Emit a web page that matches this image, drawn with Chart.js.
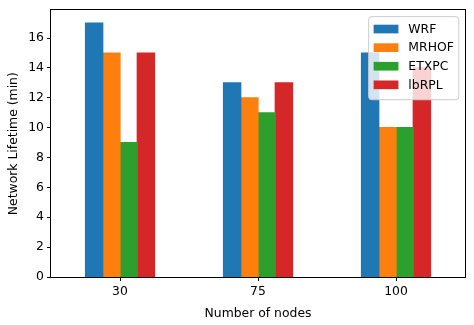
<!DOCTYPE html>
<html>
<head>
<meta charset="utf-8">
<script src="https://cdn.jsdelivr.net/npm/chart.js@4/dist/chart.umd.min.js"></script>
<style>
html,body{margin:0;padding:0;background:#fff;}
canvas{display:block;}
</style>
</head>
<body>
<canvas id="c" width="474" height="325"></canvas>
<script>
const categories = ['30', '75', '100'];
const wrf   = [17, 13, 15];
const mrhof = [15, 12, 10];
const etxpc = [9, 11, 10];
const lbrpl = [15, 13, 14];
const seriesNames = ['WRF', 'MRHOF', 'ETXPC', 'lbRPL'];
const yTickValues = [0, 2, 4, 6, 8, 10, 12, 14, 16];
const yMax = 17.85;
const xTitle = 'Number of nodes';
const yTitle = 'Network Lifetime (min)';

const colors = ['#1f77b4', '#ff7f0e', '#2ca02c', '#d62728'];
const FONT = {family: "'DejaVu Sans', sans-serif", size: 12.4};

const framePlugin = {
  id: 'frame',
  afterDatasetsDraw(chart) {
    const {ctx, chartArea: a} = chart;
    ctx.save();
    ctx.strokeStyle = '#000';
    ctx.lineWidth = 1;
    ctx.strokeRect(Math.round(a.left) - 0.5, Math.round(a.top) - 0.5,
                   Math.round(a.right - a.left) + 1, Math.round(a.bottom - a.top) + 1);
    ctx.restore();
  }
};

const legendPlugin = {
  id: 'mplLegend',
  afterDraw(chart) {
    const {ctx, chartArea: a} = chart;
    const fs = FONT.size;
    ctx.save();
    ctx.font = fs + "px 'DejaVu Sans', sans-serif";
    const labels = chart.data.datasets.map(d => d.label);
    const maxW = Math.max(...labels.map(t => ctx.measureText(t).width));
    const pad = 0.4 * fs, hl = 2 * fs, htp = 0.8 * fs, rowH = 1.5 * fs;
    const w = pad + hl + htp + maxW + pad;
    const h = pad * 2 + rowH * labels.length - 0.1 * fs;
    const x = a.right - 0.5 * fs - w;
    const y = a.top + 0.5 * fs;
    const r = 3;
    ctx.beginPath();
    ctx.moveTo(x + r, y);
    ctx.lineTo(x + w - r, y); ctx.quadraticCurveTo(x + w, y, x + w, y + r);
    ctx.lineTo(x + w, y + h - r); ctx.quadraticCurveTo(x + w, y + h, x + w - r, y + h);
    ctx.lineTo(x + r, y + h); ctx.quadraticCurveTo(x, y + h, x, y + h - r);
    ctx.lineTo(x, y + r); ctx.quadraticCurveTo(x, y, x + r, y);
    ctx.closePath();
    ctx.fillStyle = 'rgba(255,255,255,0.8)';
    ctx.fill();
    ctx.strokeStyle = '#cccccc';
    ctx.lineWidth = 1;
    ctx.stroke();
    ctx.textBaseline = 'middle';
    ctx.textAlign = 'left';
    chart.data.datasets.forEach((d, i) => {
      const cy = y + pad + 0.6 * fs + i * rowH;
      ctx.fillStyle = d.backgroundColor;
      ctx.fillRect(x + pad, cy - 0.35 * fs, hl, 0.7 * fs);
      ctx.fillStyle = '#000';
      ctx.fillText(d.label, x + pad + hl + htp, cy + 0.5);
    });
    ctx.restore();
  }
};

const seriesData = [wrf, mrhof, etxpc, lbrpl];
new Chart(document.getElementById('c'), {
  type: 'bar',
  data: {
    labels: categories,
    datasets: seriesNames.map((n, i) => ({
      label: n,
      data: seriesData[i],
      backgroundColor: colors[i],
      borderWidth: 0,
      inflateAmount: 0.6,
      categoryPercentage: 0.5,
      barPercentage: 1.0
    }))
  },
  options: {
    responsive: false,
    animation: false,
    devicePixelRatio: 1,
    layout: {padding: {top: 8, right: 9, left: 0, bottom: 0}},
    plugins: {legend: {display: false}, tooltip: {enabled: false}},
    scales: {
      x: {
        type: 'category',
        offset: true,
        grid: {display: true, offset: false, drawOnChartArea: false, drawTicks: true, tickLength: 4, color: '#000', lineWidth: 1},
        border: {display: false},
        ticks: {color: '#000', font: FONT, padding: 3, maxRotation: 0},
        title: {display: true, text: xTitle, color: '#000', font: FONT, padding: {top: 0, bottom: 4}},
        afterFit(s) { s.height = 48; }
      },
      y: {
        min: 0,
        max: yMax,
        grid: {display: true, drawOnChartArea: false, drawTicks: true, tickLength: 4, color: '#000', lineWidth: 1},
        border: {display: false},
        ticks: {color: '#000', font: FONT, padding: 3},
        afterBuildTicks(s) { s.ticks = yTickValues.map(v => ({value: v})); },
        title: {display: true, text: yTitle, color: '#000', font: FONT, padding: {top: 6.5, bottom: 0}},
        afterFit(s) { s.width = 51; }
      }
    }
  },
  plugins: [framePlugin, legendPlugin]
});
</script>
</body>
</html>
